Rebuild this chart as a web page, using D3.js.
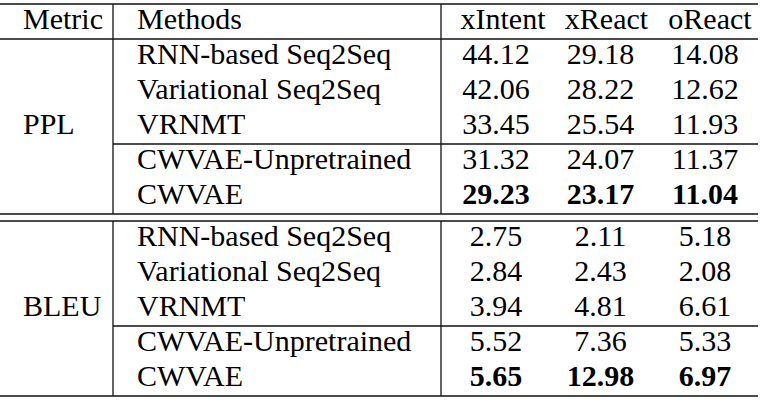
<!DOCTYPE html>
<html>
<head>
<meta charset="utf-8">
<script src="https://cdn.jsdelivr.net/npm/d3@7"></script>
<style>
  body { margin: 0; background: #fff; }
</style>
</head>
<body>
<svg class="table"></svg>
<script>
/* table data */
const metrics = ["PPL", "BLEU"]
const methods = ["RNN-based Seq2Seq", "Variational Seq2Seq", "VRNMT", "CWVAE-Unpretrained", "CWVAE"]
const columns = ["xIntent", "xReact", "oReact"]
const pplValues = [
    [44.12, 29.18, 14.08],
    [42.06, 28.22, 12.62],
    [33.45, 25.54, 11.93],
    [31.32, 24.07, 11.37],
    [29.23, 23.17, 11.04]
]
const bleuValues = [
    [2.75, 2.11, 5.18],
    [2.84, 2.43, 2.08],
    [3.94, 4.81, 6.61],
    [5.52, 7.36, 5.33],
    [5.65, 12.98, 6.97]
]
const bestMethod = "CWVAE"

const width = 763, height = 402
const depth = 10.5
const xLeft = 0, xRight = 758, xSep1 = 113, xSep2 = 441
const headTop = 4, headBottom = 39
const k = 30 / 28   // text drawn at 28px, scaled up to about 30px

const svg = d3.select("svg.table")
    .attr("width", width)
    .attr("height", height)

// one vertical scale per metric block (double rule gap between them)
const blocks = [
    {metric: metrics[0], values: pplValues, y: d3.scaleLinear().domain([0, methods.length]).range([39, 214])},
    {metric: metrics[1], values: bleuValues, y: d3.scaleLinear().domain([0, methods.length]).range([221, 396])}
]

const xNum = d3.scalePoint().domain(columns).range([496, 705])
const xHead = d3.scalePoint().domain(columns).range([503, 710])
const fmt = d3.format(".2f")

const label = (sel, x, y) => sel
    .attr("transform", (d, i) => "translate(" + (typeof x === "function" ? x(d, i) : x) + "," + (typeof y === "function" ? y(d, i) : y) + ") scale(" + k + ")")
    .style("font-family", "'Liberation Serif'")
    .attr("font-size", 28)

const line = (x1, y1, x2, y2) => svg.append("line")
    .attr("x1", x1).attr("y1", y1).attr("x2", x2).attr("y2", y2)
    .attr("stroke", "#111").attr("stroke-width", 1.3)

// header
svg.append("text").call(label, 23, headBottom - depth).text("Metric")
svg.append("text").call(label, 137, headBottom - depth).text("Methods")
svg.selectAll("text.head")
    .data(columns)
    .enter()
    .append("text")
    .attr("class", "head")
    .attr("text-anchor", "middle")
    .call(label, d => xHead(d), headBottom - depth)
    .text(d => d)

line(xLeft, headTop, xRight, headTop)
line(xLeft, headBottom, xRight, headBottom)
line(xSep1, headTop, xSep1, headBottom)
line(xSep2, headTop, xSep2, headBottom)

blocks.forEach(b => {
    const y = b.y
    const g = svg.append("g")

    g.append("text")
        .call(label, 23, y(3) - depth)
        .text(b.metric)

    const row = g.selectAll("g")
        .data(methods)
        .enter()
        .append("g")
        .attr("transform", (d, i) => "translate(0," + (y(i + 1) - depth) + ")")

    row.append("text")
        .call(label, 137, 0)
        .text(d => d)

    row.selectAll("text.val")
        .data((d, i) => b.values[i].map((v, j) => ({v: v, col: columns[j], best: d === bestMethod})))
        .enter()
        .append("text")
        .attr("class", "val")
        .attr("text-anchor", "middle")
        .call(label, d => xNum(d.col), 0)
        .attr("font-weight", d => d.best ? "bold" : null)
        .text(d => fmt(d.v))

    // rules of the block
    line(xSep1, y(3), xRight, y(3))
    line(xLeft, y(methods.length), xRight, y(methods.length))
    line(xSep1, y(0), xSep1, y(methods.length))
    line(xSep2, y(0), xSep2, y(methods.length))
})
line(xLeft, 221, xRight, 221)
</script>
</body>
</html>
